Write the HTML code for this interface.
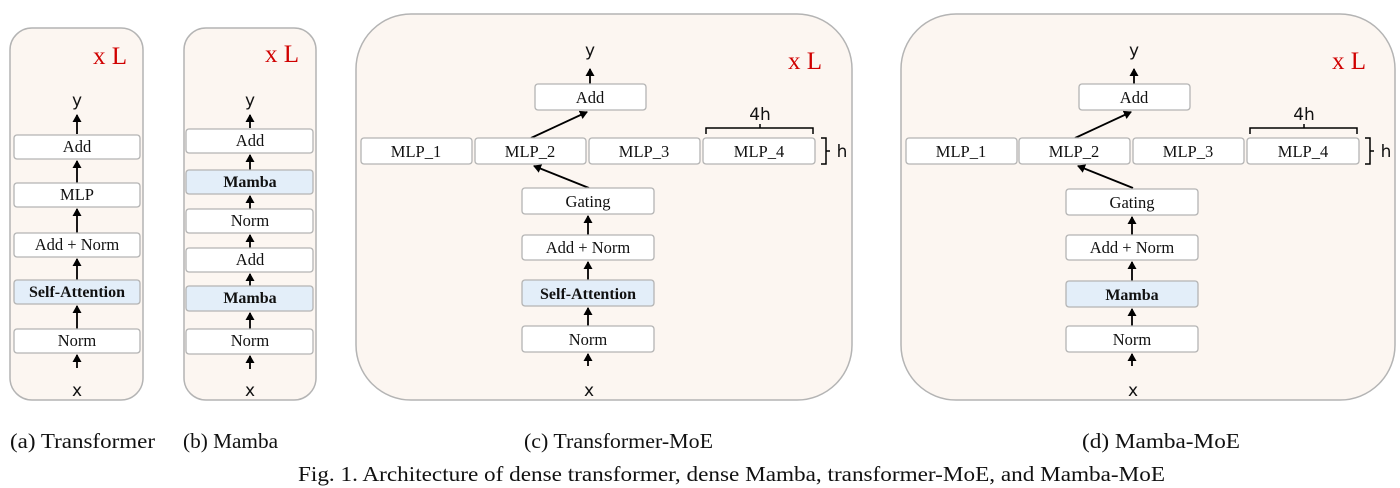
<!DOCTYPE html>
<html><head><meta charset="utf-8"><style>
html,body{margin:0;padding:0;background:#fff;}
svg{display:block;}
.p{fill:#fcf6f1;stroke:#b4b4b4;stroke-width:1.5;}
.b{fill:#fff;stroke:#b4b4b4;stroke-width:1.3;}
.h{fill:#e3eef9;stroke:#b4b4b4;stroke-width:1.3;}
.t{font-family:"Liberation Serif",serif;font-size:16.5px;fill:#111;text-anchor:middle;}
.tb{font-family:"Liberation Serif",serif;font-size:16px;font-weight:bold;fill:#111;text-anchor:middle;}
.s{font-family:"DejaVu Sans","Liberation Sans",sans-serif;font-size:17px;fill:#111;text-anchor:middle;}
.r{font-family:"Liberation Serif",serif;font-size:25px;fill:#d00000;}
.c{font-family:"Liberation Serif",serif;font-size:21px;fill:#111;}
.a{stroke:#000;stroke-width:1.8;fill:none;marker-end:url(#ar);}
</style></head><body>
<svg width="1400" height="488" viewBox="0 0 1400 488" xmlns="http://www.w3.org/2000/svg">
<defs><marker id="ar" markerWidth="10" markerHeight="10" refX="7" refY="4.5" orient="auto" markerUnits="userSpaceOnUse"><path d="M0,0 L8,4.5 L0,9 Z" fill="#000"/></marker></defs>

<!-- (a) -->
<rect class="p" x="10" y="28" width="133" height="372" rx="22"/>
<text class="r" x="93" y="64">x L</text>
<text class="s" x="77" y="106">y</text>
<text class="s" x="77" y="396">x</text>
<line class="a" x1="77" y1="134" x2="77" y2="115"/>
<rect class="b" x="14" y="135" width="126" height="24" rx="3"/><text class="t" x="77" y="152">Add</text>
<line class="a" x1="77" y1="183" x2="77" y2="161"/>
<rect class="b" x="14" y="183" width="126" height="24" rx="3"/><text class="t" x="77" y="200">MLP</text>
<line class="a" x1="77" y1="233" x2="77" y2="209"/>
<rect class="b" x="14" y="233" width="126" height="24" rx="3"/><text class="t" x="77" y="250">Add + Norm</text>
<line class="a" x1="77" y1="280" x2="77" y2="259"/>
<rect class="h" x="14" y="280" width="126" height="24" rx="3"/><text class="tb" x="77" y="297">Self-Attention</text>
<line class="a" x1="77" y1="329" x2="77" y2="306"/>
<rect class="b" x="14" y="329" width="126" height="24" rx="3"/><text class="t" x="77" y="346">Norm</text>
<line class="a" x1="77" y1="368" x2="77" y2="355"/>

<!-- (b) -->
<rect class="p" x="184" y="28" width="132" height="372" rx="22"/>
<text class="r" x="265" y="62">x L</text>
<text class="s" x="250" y="106">y</text>
<text class="s" x="250" y="396">x</text>
<line class="a" x1="250" y1="128" x2="250" y2="115"/>
<rect class="b" x="186" y="129" width="127" height="24" rx="3"/><text class="t" x="250" y="146">Add</text>
<line class="a" x1="250" y1="170" x2="250" y2="155"/>
<rect class="h" x="186" y="170" width="127" height="24" rx="3"/><text class="tb" x="250" y="187">Mamba</text>
<line class="a" x1="250" y1="209" x2="250" y2="196"/>
<rect class="b" x="186" y="209" width="127" height="24" rx="3"/><text class="t" x="250" y="226">Norm</text>
<line class="a" x1="250" y1="248" x2="250" y2="235"/>
<rect class="b" x="186" y="248" width="127" height="24" rx="3"/><text class="t" x="250" y="265">Add</text>
<line class="a" x1="250" y1="286" x2="250" y2="274"/>
<rect class="h" x="186" y="286" width="127" height="25" rx="3"/><text class="tb" x="250" y="303">Mamba</text>
<line class="a" x1="250" y1="329" x2="250" y2="313"/>
<rect class="b" x="186" y="329" width="127" height="25" rx="3"/><text class="t" x="250" y="346">Norm</text>
<line class="a" x1="250" y1="369" x2="250" y2="356"/>

<!-- (c) -->
<g>
<rect class="p" x="356" y="14" width="496" height="386" rx="55"/>
<text class="r" x="788" y="69">x L</text>
<text class="s" x="590" y="56">y</text>
<text class="s" x="589" y="396">x</text>
<line class="a" x1="590" y1="84" x2="590" y2="69"/>
<rect class="b" x="535" y="84" width="111" height="26" rx="3"/><text class="t" x="590" y="103">Add</text>
<line class="a" x1="531" y1="138" x2="587" y2="112"/>
<rect class="b" x="361" y="138" width="111" height="26" rx="3"/><text class="t" x="416" y="157">MLP_1</text>
<rect class="b" x="475" y="138" width="111" height="26" rx="3"/><text class="t" x="530" y="157">MLP_2</text>
<rect class="b" x="589" y="138" width="111" height="26" rx="3"/><text class="t" x="644" y="157">MLP_3</text>
<rect class="b" x="703" y="138" width="112" height="26" rx="3"/><text class="t" x="759" y="157">MLP_4</text>
<path d="M706,134 V128 H813 V134 M760,128 V124" stroke="#000" stroke-width="1.5" fill="none"/>
<text class="s" x="760" y="120">4h</text>
<path d="M821,138 H826 V164 H821 M826,151 H830" stroke="#000" stroke-width="1.5" fill="none"/>
<text class="s" x="842" y="157">h</text>
<line class="a" x1="589" y1="188" x2="534" y2="166"/>
<rect class="b" x="522" y="188" width="132" height="26" rx="3"/><text class="t" x="588" y="207">Gating</text>
<line class="a" x1="588" y1="235" x2="588" y2="216"/>
<rect class="b" x="522" y="235" width="132" height="25" rx="3"/><text class="t" x="588" y="253">Add + Norm</text>
<line class="a" x1="588" y1="280" x2="588" y2="262"/>
<rect class="h" x="522" y="280" width="132" height="26" rx="3"/><text class="tb" x="588" y="299">Self-Attention</text>
<line class="a" x1="588" y1="326" x2="588" y2="308"/>
<rect class="b" x="522" y="326" width="132" height="26" rx="3"/><text class="t" x="588" y="345">Norm</text>
<line class="a" x1="588" y1="366" x2="588" y2="354"/>
</g>

<!-- (d) -->
<g transform="translate(544,0)">
<rect class="p" x="357" y="14" width="494" height="386" rx="55"/>
<text class="r" x="788" y="69">x L</text>
<text class="s" x="590" y="56">y</text>
<text class="s" x="589" y="396">x</text>
<line class="a" x1="590" y1="84" x2="590" y2="69"/>
<rect class="b" x="535" y="84" width="111" height="26" rx="3"/><text class="t" x="590" y="103">Add</text>
<line class="a" x1="531" y1="138" x2="587" y2="112"/>
<rect class="b" x="362" y="138" width="111" height="26" rx="3"/><text class="t" x="417" y="157">MLP_1</text>
<rect class="b" x="475" y="138" width="111" height="26" rx="3"/><text class="t" x="530" y="157">MLP_2</text>
<rect class="b" x="589" y="138" width="111" height="26" rx="3"/><text class="t" x="644" y="157">MLP_3</text>
<rect class="b" x="703" y="138" width="112" height="26" rx="3"/><text class="t" x="759" y="157">MLP_4</text>
<path d="M706,134 V128 H813 V134 M760,128 V124" stroke="#000" stroke-width="1.5" fill="none"/>
<text class="s" x="760" y="120">4h</text>
<path d="M821,138 H826 V164 H821 M826,151 H830" stroke="#000" stroke-width="1.5" fill="none"/>
<text class="s" x="842" y="157">h</text>
<line class="a" x1="589" y1="188" x2="534" y2="166"/>
<rect class="b" x="522" y="189" width="132" height="26" rx="3"/><text class="t" x="588" y="208">Gating</text>
<line class="a" x1="588" y1="235" x2="588" y2="217"/>
<rect class="b" x="522" y="235" width="132" height="25" rx="3"/><text class="t" x="588" y="253">Add + Norm</text>
<line class="a" x1="588" y1="281" x2="588" y2="262"/>
<rect class="h" x="522" y="281" width="132" height="26" rx="3"/><text class="tb" x="588" y="300">Mamba</text>
<line class="a" x1="588" y1="326" x2="588" y2="309"/>
<rect class="b" x="522" y="326" width="132" height="26" rx="3"/><text class="t" x="588" y="345">Norm</text>
<line class="a" x1="588" y1="366" x2="588" y2="354"/>
</g>

<!-- captions -->
<text class="c" x="10" y="448" textLength="145" lengthAdjust="spacingAndGlyphs">(a)  Transformer</text>
<text class="c" x="183" y="448" textLength="95" lengthAdjust="spacingAndGlyphs">(b)  Mamba</text>
<text class="c" x="524" y="448" textLength="189" lengthAdjust="spacingAndGlyphs">(c)  Transformer-MoE</text>
<text class="c" x="1082" y="448" textLength="158" lengthAdjust="spacingAndGlyphs">(d)  Mamba-MoE</text>
<text class="c" x="298" y="481" textLength="867" lengthAdjust="spacingAndGlyphs">Fig. 1.   Architecture of dense transformer, dense Mamba, transformer-MoE, and Mamba-MoE</text>
</svg>
</body></html>
